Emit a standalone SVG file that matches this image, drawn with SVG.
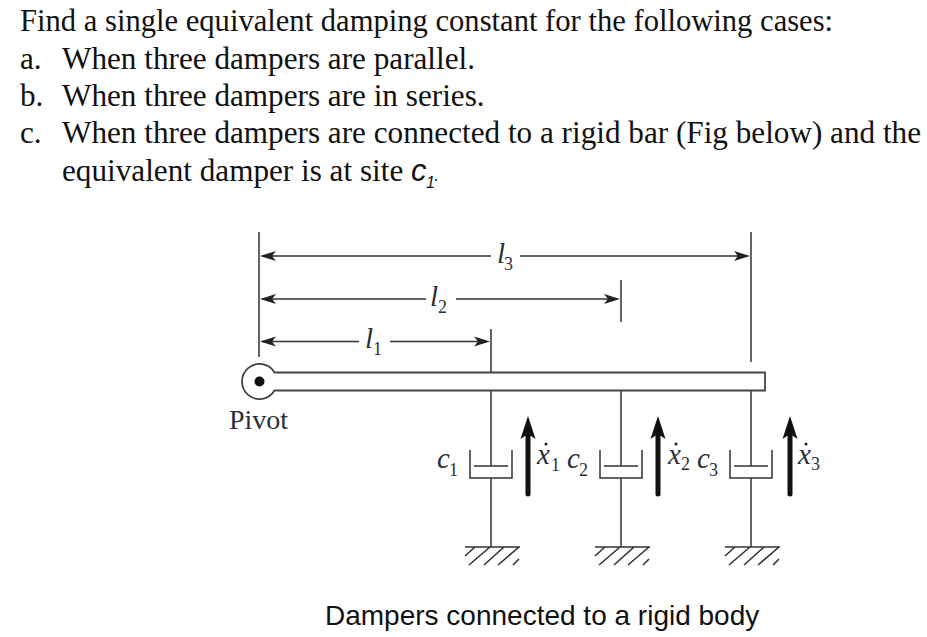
<svg xmlns="http://www.w3.org/2000/svg" width="927" height="637" viewBox="0 0 927 637">
<style>
.t{font-family:"Liberation Serif",serif;font-size:31.200px;fill:#111}
.f{font-family:"Liberation Serif",serif;fill:#2b3038}
.i{font-style:italic;font-size:29px}
.s{font-size:18px}
.l{stroke:#333;stroke-width:1.5;fill:none}
.h{stroke:#333;stroke-width:1.6;fill:none}
.a{stroke:#111;stroke-width:5;stroke-linecap:round;fill:none}
</style>
<defs>
<path id="ah" d="M0 0L16 -5L12 0L16 5Z" fill="#222"/>
<path id="up" d="M0 0L7.500 23L0 18L-7.500 23Z" fill="#111"/>
<g id="damper">
<path class="l" d="M0 -90V-15M-17 -15H17M-21 -31V-3H21V-31M0 -3V66"/>
<path class="h" d="M-26 66H29M-16 66L-26 75M-1 66L-22 84M13 66L-7 84M28 66L7 84M28 78L22 84"/>
</g>
</defs>
<rect width="927" height="637" fill="#fff"/>
<g id="question">
<text class="t" x="20" y="31" style="font-size:30.600px">Find a single equivalent damping constant for the following cases:</text>
<text class="t" x="20" y="69">a.</text><text class="t" x="62" y="69">When three dampers are parallel.</text>
<text class="t" x="20" y="106">b.</text><text class="t" x="62" y="106">When three dampers are in series.</text>
<text class="t" x="20" y="143">c.</text><text class="t" x="62" y="143">When three dampers are connected to a rigid bar (Fig below) and the</text>
<text class="t" x="62" y="181">equivalent damper is at site</text>
<text class="t" x="411" y="181" style="font-family:'Liberation Sans',sans-serif;font-style:italic;font-size:31px">c</text>
<text class="t" x="426" y="188" style="font-family:'Liberation Sans',sans-serif;font-style:italic;font-size:16px">1</text>
<text class="t" x="434" y="181" style="font-size:16px">.</text>
</g>
<g id="connectors">
<path class="l" d="M259 232V357M751 232V362M621 280V322M491 329V372"/>
<path class="l" d="M262 256H491M520 256H738M262 299H426M456 299H608M262 341.500H359M390 341.500H478"/>
<use href="#ah" x="260" y="256"/><use href="#ah" x="260" y="299"/><use href="#ah" x="260" y="341.500"/>
<use href="#ah" transform="translate(490 341.500) scale(-1 1)"/><use href="#ah" transform="translate(620 299) scale(-1 1)"/><use href="#ah" transform="translate(750 256) scale(-1 1)"/>
</g>
<g id="bar">
<path d="M274.500 372.500H765V390.500H274.500A17.500 17.500 0 1 1 274.500 372.500Z" fill="#fff" stroke="#444" stroke-width="1.8"/>
<circle cx="259.500" cy="381.500" r="5" fill="#111"/>
</g>
<g id="damper1"><use href="#damper" x="491" y="481"/></g>
<g id="damper2"><use href="#damper" x="621" y="481"/></g>
<g id="damper3"><use href="#damper" x="751" y="481"/></g>
<g id="arrows">
<path class="a" d="M528 494V430M658 494V430M790 494V430"/>
<use href="#up" x="528" y="416"/><use href="#up" x="658" y="416"/><use href="#up" x="790" y="416"/>
</g>
<g id="labels">
<text class="f i" x="497" y="263">l</text><text class="f s" x="504" y="270">3</text>
<text class="f i" x="430" y="306">l</text><text class="f s" x="438" y="313">2</text>
<text class="f i" x="365" y="348">l</text><text class="f s" x="373" y="355">1</text>
<text class="f" x="229" y="429" font-size="28">Pivot</text>
<text class="f i" x="437" y="468">c</text><text class="f s" x="449" y="476">1</text>
<text class="f i" x="537" y="464">x</text><text class="f s" x="551" y="471">1</text><circle cx="546" cy="444" r="1.500" fill="#222"/>
<text class="f i" x="567" y="468">c</text><text class="f s" x="579" y="476">2</text>
<text class="f i" x="668" y="464">x</text><text class="f s" x="681" y="470">2</text><circle cx="676" cy="444" r="1.500" fill="#222"/>
<text class="f i" x="697" y="468">c</text><text class="f s" x="709" y="476">3</text>
<text class="f i" x="798" y="464">x</text><text class="f s" x="811" y="470">3</text><circle cx="806" cy="444" r="1.500" fill="#222"/>
</g>
<text id="caption" x="325" y="625" font-family="Liberation Sans, sans-serif" font-size="28" fill="#111">Dampers connected to a rigid body</text>
</svg>
